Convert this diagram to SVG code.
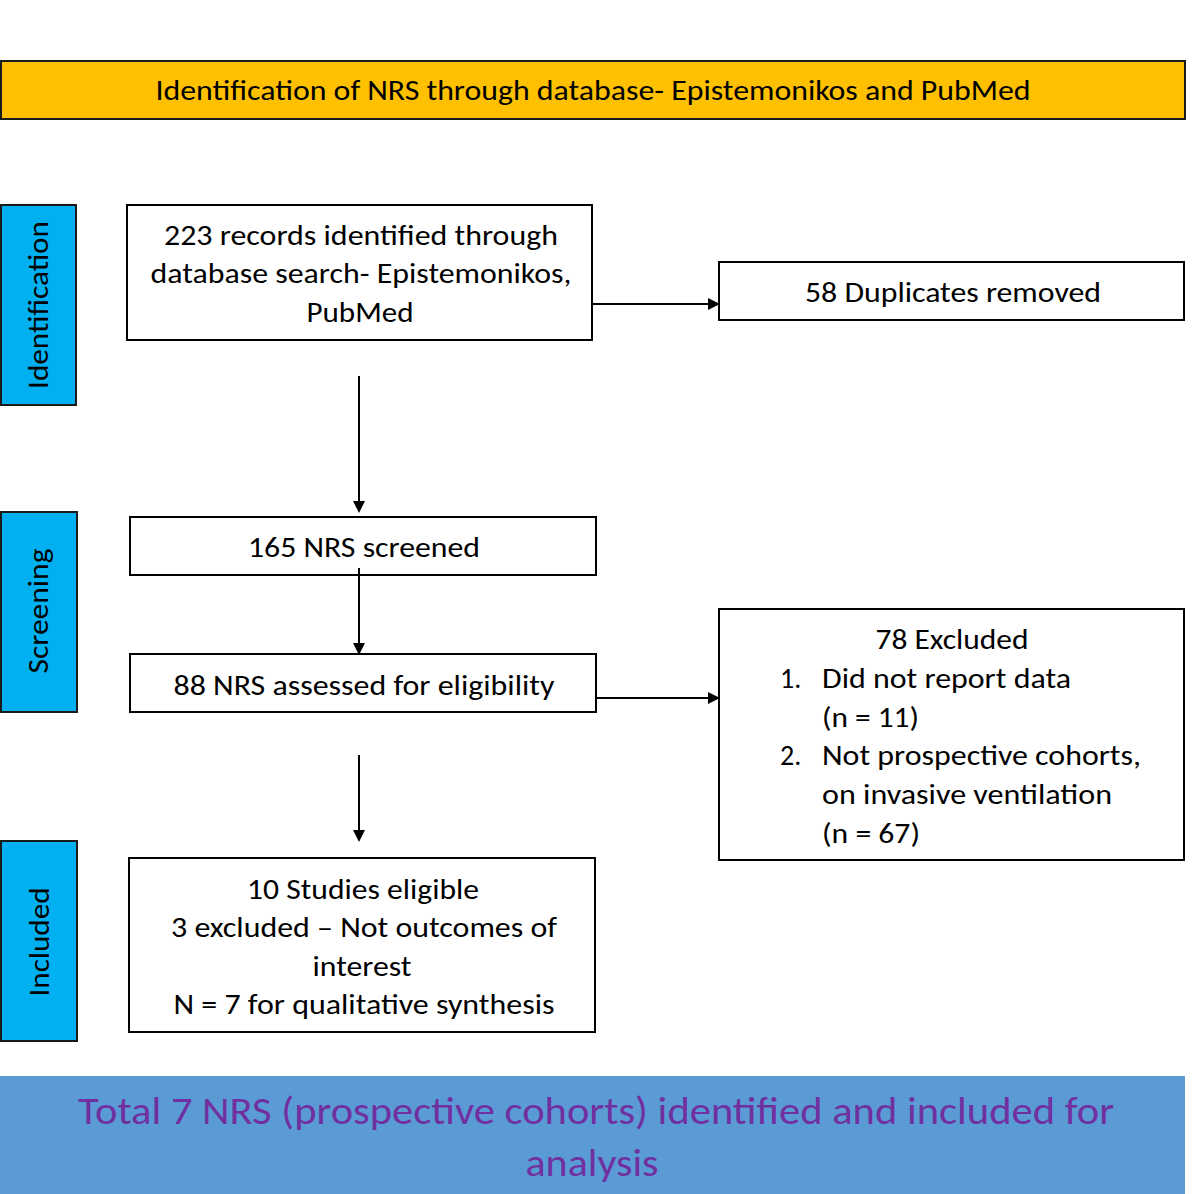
<svg xmlns="http://www.w3.org/2000/svg" width="1200" height="1194" viewBox="0 0 1200 1194">
<style>
text{font-family:Carlito,Calibri,Lato,"Liberation Sans",sans-serif;fill:#000;}
.t{font-size:28px;}
.box{fill:#fff;stroke:#000;stroke-width:2;}
.side{fill:#00B0F0;stroke:#1a1a1a;stroke-width:2;}
.conn{stroke:#000;stroke-width:2;fill:none;marker-end:url(#ah);}
.big{font-size:38px;fill:#7030A0;}
</style>
<defs>
<marker id="ah" markerWidth="12" markerHeight="12" refX="10" refY="6" orient="auto" markerUnits="userSpaceOnUse">
<path d="M0,0 L12,6 L0,12 Z" fill="#000"/>
</marker>
</defs>
<rect width="1200" height="1194" fill="#fff"/>
<g id="banner-top">
<rect x="1" y="61" width="1184" height="58" fill="#FFC000" stroke="#1a1a1a" stroke-width="2"/>
<text class="t" x="593" y="100" text-anchor="middle" textLength="875" lengthAdjust="spacingAndGlyphs">Identification of NRS through database- Epistemonikos and PubMed</text>
</g>
<g id="label-identification">
<rect class="side" x="1" y="205" width="75" height="200"/>
<text class="t" transform="translate(48,305) rotate(-90)" text-anchor="middle" textLength="168" lengthAdjust="spacingAndGlyphs">Identification</text>
</g>
<g id="label-screening">
<rect class="side" x="1" y="512" width="76" height="200"/>
<text class="t" transform="translate(48,611) rotate(-90)" text-anchor="middle" textLength="125" lengthAdjust="spacingAndGlyphs">Screening</text>
</g>
<g id="label-included">
<rect class="side" x="1" y="841" width="76" height="200"/>
<text class="t" transform="translate(49,942) rotate(-90)" text-anchor="middle" textLength="109" lengthAdjust="spacingAndGlyphs">Included</text>
</g>
<g id="node-records">
<rect class="box" x="127" y="205" width="465" height="135"/>
<text class="t" x="361" y="245" text-anchor="middle" textLength="394" lengthAdjust="spacingAndGlyphs">223 records identified through</text>
<text class="t" x="361" y="283" text-anchor="middle" textLength="421" lengthAdjust="spacingAndGlyphs">database search- Epistemonikos,</text>
<text class="t" x="360" y="322" text-anchor="middle" textLength="107" lengthAdjust="spacingAndGlyphs">PubMed</text>
</g>
<g id="node-duplicates">
<rect class="box" x="719" y="262" width="465" height="58"/>
<text class="t" x="953" y="302" text-anchor="middle" textLength="296" lengthAdjust="spacingAndGlyphs">58 Duplicates removed</text>
</g>
<g id="node-screened">
<rect class="box" x="130" y="517" width="466" height="58"/>
<text class="t" x="364" y="557" text-anchor="middle" textLength="232" lengthAdjust="spacingAndGlyphs">165 NRS screened</text>
</g>
<g id="node-assessed">
<rect class="box" x="130" y="654" width="466" height="58"/>
<text class="t" x="364" y="695" text-anchor="middle" textLength="381" lengthAdjust="spacingAndGlyphs">88 NRS assessed for eligibility</text>
</g>
<g id="node-excluded">
<rect class="box" x="719" y="609" width="465" height="251"/>
<text class="t" x="952" y="649" text-anchor="middle" textLength="153" lengthAdjust="spacingAndGlyphs">78 Excluded</text>
<text class="t" x="780" y="688">1.</text>
<text class="t" x="822" y="688" textLength="249" lengthAdjust="spacingAndGlyphs">Did not report data</text>
<text class="t" x="822" y="727" textLength="97" lengthAdjust="spacingAndGlyphs">(n = 11)</text>
<text class="t" x="780" y="765">2.</text>
<text class="t" x="822" y="765" textLength="319" lengthAdjust="spacingAndGlyphs">Not prospective cohorts,</text>
<text class="t" x="822" y="804" textLength="290" lengthAdjust="spacingAndGlyphs">on invasive ventilation</text>
<text class="t" x="822" y="843" textLength="98" lengthAdjust="spacingAndGlyphs">(n = 67)</text>
</g>
<g id="node-eligible">
<rect class="box" x="129" y="858" width="466" height="174"/>
<text class="t" x="363" y="899" text-anchor="middle" textLength="232" lengthAdjust="spacingAndGlyphs">10 Studies eligible</text>
<text class="t" x="364" y="937" text-anchor="middle" textLength="386" lengthAdjust="spacingAndGlyphs">3 excluded – Not outcomes of</text>
<text class="t" x="362" y="976" text-anchor="middle" textLength="99" lengthAdjust="spacingAndGlyphs">interest</text>
<text class="t" x="364" y="1014" text-anchor="middle" textLength="381" lengthAdjust="spacingAndGlyphs">N = 7 for qualitative synthesis</text>
</g>
<g id="banner-bottom">
<rect x="0" y="1076" width="1185" height="118" fill="#5B9BD5"/>
<text class="big" x="596" y="1124" text-anchor="middle" textLength="1036" lengthAdjust="spacingAndGlyphs">Total 7 NRS (prospective cohorts) identified and included for</text>
<text class="big" x="592" y="1176" text-anchor="middle" textLength="133" lengthAdjust="spacingAndGlyphs">analysis</text>
</g>
<g id="connectors">
<line class="conn" x1="592" y1="304" x2="718" y2="304"/>
<line class="conn" x1="359" y1="376" x2="359" y2="511"/>
<line class="conn" x1="359" y1="568" x2="359" y2="653"/>
<line class="conn" x1="596" y1="698" x2="718" y2="698"/>
<line class="conn" x1="359" y1="755" x2="359" y2="840"/>
</g>
</svg>
